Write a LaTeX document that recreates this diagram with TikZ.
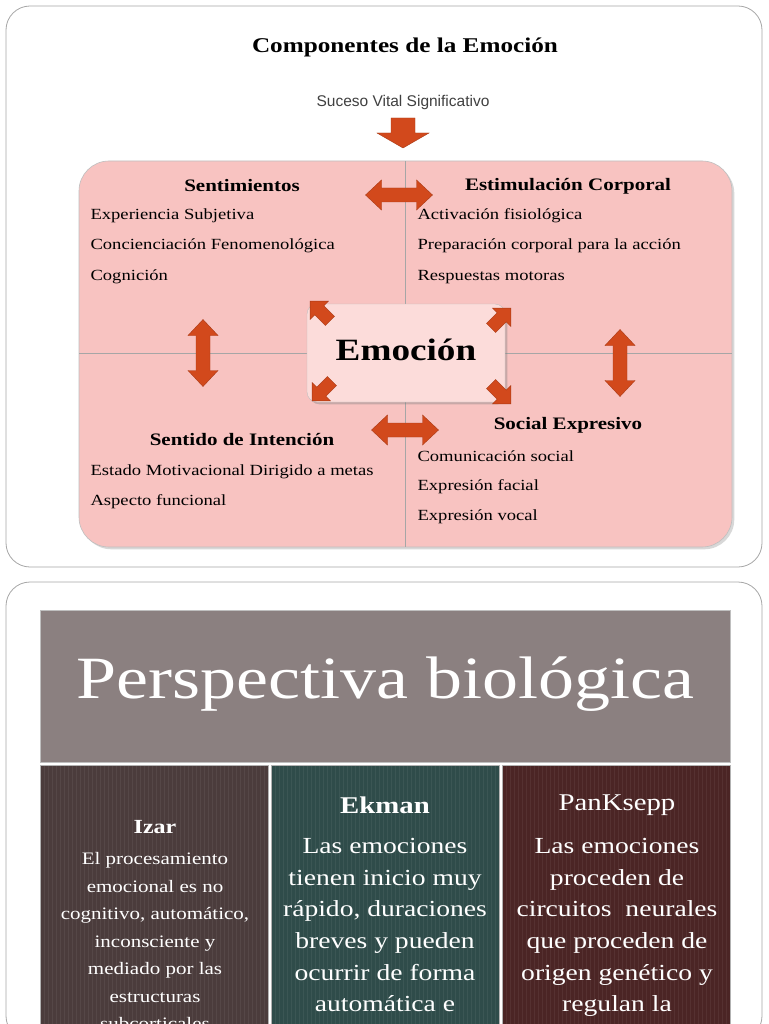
\documentclass[tikz,border=0pt]{standalone}
\usepackage{fontspec}
\setmainfont[FakeStretch=1.2]{Liberation Serif}
\newfontfamily\sansf{Liberation Sans}
\usetikzlibrary{shadows}
\definecolor{orng}{HTML}{D2491C}
\definecolor{pinkb}{HTML}{F8C3C1}
\definecolor{pinkc}{HTML}{FCDCDA}
\definecolor{ttl}{HTML}{8B8080}
\definecolor{colA}{HTML}{4B3C3C}
\definecolor{colB}{HTML}{2F4C4A}
\definecolor{colC}{HTML}{4B2525}
\tikzset{
 panel/.style={draw=gray!70,line width=0.8pt,rounded corners=24pt,fill=white},
 arrfill/.style={fill=orng,draw=orng!80!black,line width=0.4pt},
 hd/.style={font=\fontsize{17.5}{19}\selectfont\bfseries},
 it/.style={font=\fontsize{15.5}{17}\selectfont,anchor=west},
 col/.style={draw=gray!60,line width=0.6pt},
 ctext/.style={text=white,align=center,font=\fontsize{17.5}{27.5}\selectfont},
 ctextb/.style={text=white,align=center,font=\fontsize{23}{31.6}\selectfont}
}
\newcommand\dblarr[3]{% name, position, angle
 \begin{scope}[shift={#2},rotate=#3]
 \draw[arrfill] (-33.5,0)--(-17.5,15)--(-17.5,7)--(17.5,7)--(17.5,15)--(33.5,0)--(17.5,-15)--(17.5,-7)--(-17.5,-7)--(-17.5,-15)--cycle;
 \coordinate (#1) at (0,0);
 \end{scope}}
\newcommand\sglarr[3]{%
 \begin{scope}[shift={#2},rotate=#3]
 \draw[arrfill] (-14,-6.5)--(1,-6.5)--(1,-13)--(14,0)--(1,13)--(1,6.5)--(-14,6.5)--cycle;
 \coordinate (#1) at (0,0);
 \end{scope}}
\begin{document}
\begin{tikzpicture}[x=1pt,y=-1pt]
\useasboundingbox (0,0) rectangle (768,1024);
\begin{scope}
\clip (0,0) rectangle (768,1024);
% top panel
\draw[panel] (6,6) rectangle (762,567);
\node[font=\fontsize{21}{23}\selectfont\bfseries] (title) at (405,47) {Componentes de la Emoción};
\node[font=\sansf\fontsize{15.5}{17}\selectfont,text=black!75] (suceso) at (403,102) {Suceso Vital Significativo};
\begin{scope}[shift={(403,133)},rotate=-90]
 \draw[arrfill] (-15,-12)--(0,-12)--(0,-26)--(15,0)--(0,26)--(0,12)--(-15,12)--cycle;
 \coordinate (down) at (0,0);
\end{scope}
\draw[fill=pinkb,draw=gray!50,line width=0.6pt,rounded corners=30pt,drop shadow={opacity=0.3}] (79,161) rectangle (732,547);
\draw[black!35,line width=0.6pt] (405,161) -- (405,547) (79,353) -- (732,353);
\node[draw=gray!50,fill=pinkc,rounded corners=10pt,minimum width=198pt,minimum height=98pt,drop shadow={opacity=0.4}] (emo) at (406,353) {};
\node[font=\fontsize{31}{33}\selectfont\bfseries] (emot) at (406,350) {Emoción};
% headings
\node[hd] (h1) at (242,186) {Sentimientos};
\node[it] (a1) at (87,216) {Experiencia Subjetiva};
\node[it] (a2) at (87,246) {Concienciación Fenomenológica};
\node[it] (a3) at (87,277) {Cognición};
\node[hd] (h2) at (568,186) {Estimulación Corporal};
\node[it] (b1) at (414,216) {Activación fisiológica};
\node[it] (b2) at (414,246) {Preparación corporal para la acción};
\node[it] (b3) at (414,277) {Respuestas motoras};
\node[hd] (h3) at (242,440) {Sentido de Intención};
\node[it] (c1) at (87,472) {Estado Motivacional Dirigido a metas};
\node[it] (c2) at (87,502) {Aspecto funcional};
\node[hd] (h4) at (568,425) {Social Expresivo};
\node[it] (d1) at (414,456) {Comunicación social};
\node[it] (d2) at (414,487) {Expresión facial};
\node[it] (d3) at (414,517) {Expresión vocal};
% arrows
\dblarr{ar1}{(399,195)}{0}
\dblarr{ar2}{(203,353)}{90}
\dblarr{ar3}{(620,363)}{90}
\dblarr{ar4}{(405,430)}{0}
\sglarr{k1}{(320,311)}{135}
\sglarr{k2}{(501,318)}{45}
\sglarr{k3}{(322,391)}{-135}
\sglarr{k4}{(501,394)}{-45}
% bottom panel
\draw[panel] (6,582) rectangle (762,1040);
\fill[ttl] (40,610) rectangle (730,762);
\draw[gray!50,line width=0.8pt] (40,610) rectangle (730,762);
\node[text=white,font=\fontsize{60}{62}\selectfont] (pb) at (385,684) {Perspectiva biológica};
\fill[colA] (40,765) rectangle (268,1030);
\fill[colB] (271,765) rectangle (499,1030);
\fill[colC] (502,765) rectangle (730,1030);
\foreach \x in {44,48,...,266} {\draw[white,opacity=0.06] (\x,765)--(\x,1030);}
\foreach \x in {275,279,...,497} {\draw[white,opacity=0.06] (\x,765)--(\x,1030);}
\foreach \x in {506,510,...,728} {\draw[white,opacity=0.06] (\x,765)--(\x,1030);}
\draw[col] (40,765) rectangle (268,1030);
\draw[col] (271,765) rectangle (499,1030);
\draw[col] (502,765) rectangle (730,1030);
\node[text=white,font=\fontsize{20}{22}\selectfont\bfseries] (izar) at (155,827) {Izar};
\node[ctext,anchor=north] (izt) at (155,849) {El procesamiento\\emocional es no\\cognitivo, automático,\\inconsciente y\\mediado por las\\estructuras\\subcorticales};
\node[text=white,font=\fontsize{24}{26}\selectfont\bfseries] (ekm) at (385,805) {Ekman};
\node[ctextb,anchor=north] (ekt) at (385,835) {Las emociones\\tienen inicio muy\\rápido, duraciones\\breves y pueden\\ocurrir de forma\\automática e};
\node[text=white,font=\fontsize{24}{26}\selectfont] (pan) at (617,805) {PanKsepp};
\node[ctextb,anchor=north] (pant) at (617,835) {Las emociones\\proceden de\\circuitos\ \ neurales\\que proceden de\\origen genético y\\regulan la};
\end{scope}
\end{tikzpicture}
\end{document}
